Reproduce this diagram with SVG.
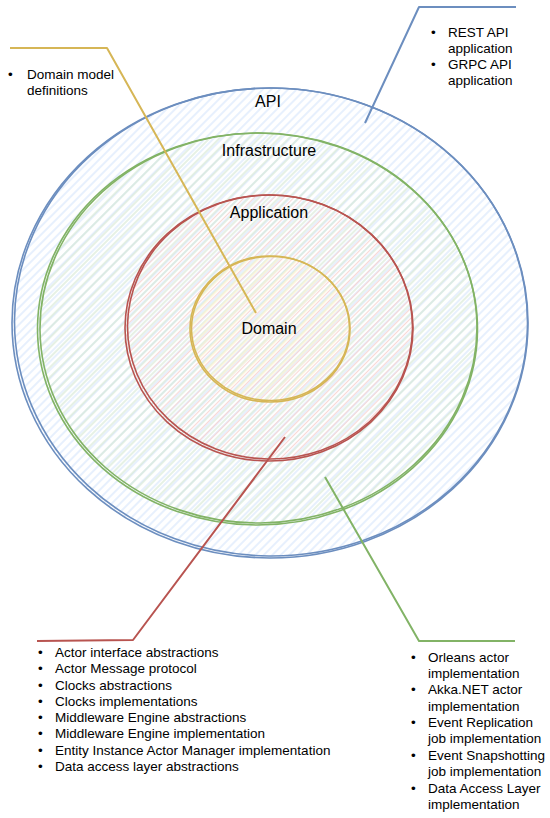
<svg xmlns="http://www.w3.org/2000/svg" width="550" height="818" viewBox="0 0 550 818">
<defs>
<pattern id="hB" patternUnits="userSpaceOnUse" width="6" height="6" patternTransform="rotate(-45)"><line x1="0" y1="3" x2="6" y2="3" stroke="#dae8fc" stroke-width="1.3"/></pattern>
<pattern id="hG" patternUnits="userSpaceOnUse" width="7" height="7" patternTransform="rotate(-45)"><line x1="0" y1="1" x2="7" y2="1" stroke="#d5e8d4" stroke-width="1.2"/></pattern>
<pattern id="hR" patternUnits="userSpaceOnUse" width="7" height="7" patternTransform="rotate(-45)"><line x1="0" y1="4.5" x2="7" y2="4.5" stroke="#f8cecc" stroke-width="1.1" stroke-opacity="0.8"/></pattern>
<pattern id="hY" patternUnits="userSpaceOnUse" width="7" height="7" patternTransform="rotate(-45)"><line x1="0" y1="2" x2="7" y2="2" stroke="#fff2cc" stroke-width="1.1"/></pattern>
</defs>
<style>
.lbl{font-family:"Liberation Sans",Arial,sans-serif;font-size:16px;fill:#000;text-anchor:middle}
.txt{font-family:"Liberation Sans",Arial,sans-serif;font-size:13.5px;fill:#000}
.s{fill:none;stroke-width:1.6}
.b{stroke:#6c8ebf}.g{stroke:#82b366}.r{stroke:#b85450}.y{stroke:#d6b656}
.c{fill:none;stroke-width:2;stroke-linejoin:round}
</style>
<rect width="550" height="818" fill="#fff"/>
<g id="api">
<ellipse cx="270" cy="323" rx="258" ry="235" fill="url(#hB)"/>
<ellipse class="s b" cx="270" cy="323" rx="258" ry="235"/>
<ellipse class="s b" cx="271" cy="322" rx="256.5" ry="234" transform="rotate(0.6 270 323)"/>
<text class="lbl" x="268" y="107">API</text>
</g>
<g id="infrastructure">
<ellipse cx="257.5" cy="329" rx="220" ry="196" fill="url(#hG)"/>
<ellipse class="s g" cx="257.5" cy="329" rx="220" ry="196"/>
<ellipse class="s g" cx="258.5" cy="328" rx="218.5" ry="195" transform="rotate(-0.6 257 329)"/>
<text class="lbl" x="269" y="156">Infrastructure</text>
</g>
<g id="application">
<ellipse cx="269" cy="328" rx="144" ry="133" fill="url(#hR)"/>
<ellipse class="s r" cx="269" cy="328" rx="144" ry="133"/>
<ellipse class="s r" cx="270" cy="327" rx="142.5" ry="132" transform="rotate(0.8 269 328)"/>
<text class="lbl" x="269" y="218">Application</text>
</g>
<g id="domain">
<ellipse cx="270" cy="329" rx="80" ry="73" fill="url(#hY)"/>
<ellipse class="s y" cx="270" cy="329" rx="80" ry="73"/>
<ellipse class="s y" cx="270.5" cy="328.5" rx="79" ry="72" transform="rotate(-1 270 329)"/>
<text class="lbl" x="269" y="334">Domain</text>
</g>
<g id="connectors">
<polyline class="c y" points="10,48 107,48 256,313"/>
<polyline class="c b" points="365,123 419,7 516,7"/>
<polyline class="c r" points="37,641 133,640 285,437"/>
<polyline class="c g" points="325,477 419,641 515,641"/>
</g>
<g id="note-domain" class="txt">
<text x="8" y="79">•</text>
<text x="27" y="79">Domain model</text>
<text x="27" y="95">definitions</text>
</g>
<g id="note-api" class="txt">
<text x="431" y="37">•</text>
<text x="448" y="37">REST API</text>
<text x="448" y="53">application</text>
<text x="431" y="69">•</text>
<text x="448" y="69">GRPC API</text>
<text x="448" y="85">application</text>
</g>
<g id="note-application" class="txt">
<text x="38" y="657">•</text><text x="55" y="657">Actor interface abstractions</text>
<text x="38" y="673">•</text><text x="55" y="673">Actor Message protocol</text>
<text x="38" y="689.5">•</text><text x="55" y="689.5">Clocks abstractions</text>
<text x="38" y="706">•</text><text x="55" y="706">Clocks implementations</text>
<text x="38" y="722">•</text><text x="55" y="722">Middleware Engine abstractions</text>
<text x="38" y="738">•</text><text x="55" y="738">Middleware Engine implementation</text>
<text x="38" y="754.5">•</text><text x="55" y="754.5">Entity Instance Actor Manager implementation</text>
<text x="38" y="771">•</text><text x="55" y="771">Data access layer abstractions</text>
</g>
<g id="note-infrastructure" class="txt">
<text x="411" y="662">•</text><text x="428" y="662">Orleans actor</text>
<text x="428" y="678">implementation</text>
<text x="411" y="694">•</text><text x="428" y="694">Akka.NET actor</text>
<text x="428" y="711">implementation</text>
<text x="411" y="727">•</text><text x="428" y="727">Event Replication</text>
<text x="428" y="743">job implementation</text>
<text x="411" y="760">•</text><text x="428" y="760">Event Snapshotting</text>
<text x="428" y="776">job implementation</text>
<text x="411" y="793">•</text><text x="428" y="793">Data Access Layer</text>
<text x="428" y="809">implementation</text>
</g>
</svg>
